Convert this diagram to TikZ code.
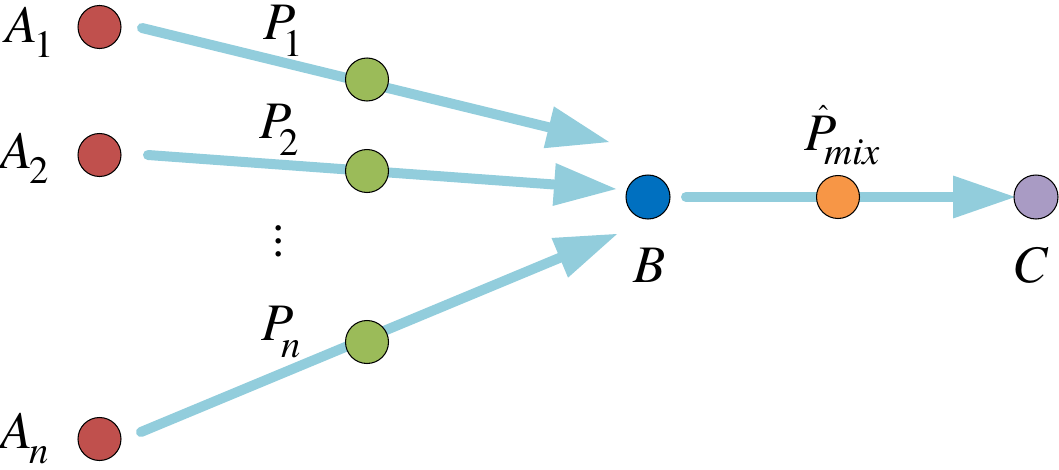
\documentclass[tikz,border=0pt]{standalone}
\usepackage{fontspec}
\setmainfont{texgyretermes}[Extension=.otf,UprightFont=*-regular,ItalicFont=*-italic,BoldFont=*-bold,BoldItalicFont=*-bolditalic]
\usetikzlibrary{arrows.meta}
\definecolor{lineblue}{HTML}{92CDDC}
\definecolor{nred}{HTML}{C0504D}
\definecolor{ngreen}{HTML}{9BBB59}
\definecolor{nblue}{HTML}{0070C0}
\definecolor{norange}{HTML}{F79646}
\definecolor{npurple}{HTML}{A99BC4}
\newcommand\mainsz{\fontsize{30}{32}\selectfont}
\newcommand\subsz{\fontsize{22}{24}\selectfont}
\newcommand\SubA[2]{\textit{#1}\kern-2pt\raisebox{-9pt}{\subsz #2}}
\newcommand\SubP[2]{\textit{#1}\kern-7pt\raisebox{-10pt}{\subsz #2}}
\newcommand\HatP{\makebox[0pt][l]{\kern 8pt\raisebox{14pt}{\fontsize{17}{17}\selectfont\char"02C6}}\textit{P}}
\begin{document}
\begin{tikzpicture}[x=0.02cm,y=-0.02cm,
  dot/.style={circle,draw=black,line width=0.6pt,minimum size=0.86cm,inner sep=0pt},
  bigdot/.style={dot,minimum size=0.88cm},
  conn/.style={draw=lineblue,line width=0.2cm,line cap=round,
    -{Triangle[length=12.4mm,width=8.6mm,line width=0pt]}},
  lab/.style={inner sep=0pt,anchor=base west,font=\mainsz}]
\useasboundingbox (0,0) rectangle (1059,470);
% connector end points
\coordinate (s1) at (142,28);
\coordinate (t1) at (609,142);
\coordinate (s2) at (148,155);
\coordinate (t2) at (616,189);
\coordinate (s3) at (141,432);
\coordinate (t3) at (617,234);
\coordinate (s4) at (686,197);
\coordinate (t4) at (1015,197);
% connectors
\draw[conn] (s1) -- (t1);
\draw[conn] (s2) -- (t2);
\draw[conn] (s3) -- (t3);
\draw[conn] (s4) -- (t4);
% nodes
\node[dot,fill=nred] (A1) at (99.5,27) {};
\node[dot,fill=nred] (A2) at (99.5,155) {};
\node[dot,fill=nred] (An) at (99.5,439) {};
\node[dot,fill=ngreen] (G1) at (367,79.5) {};
\node[dot,fill=ngreen] (G2) at (367,171) {};
\node[dot,fill=ngreen] (Gn) at (367,342) {};
\node[bigdot,fill=nblue] (B) at (648,197) {};
\node[dot,fill=norange] (M) at (838,197) {};
\node[bigdot,fill=npurple] (C) at (1036,197) {};
% labels
\node[lab] (lA1) at (5,42) {\SubA{A}{1}};
\node[lab] (lA2) at (0,168) {\SubA{A}{2}};
\node[lab] (lAn) at (0,448) {\SubA{A}{\textit{n}}};
\node[lab] (lP1) at (263,39) {\SubP{P}{1}};
\node[lab] (lP2) at (259,138) {\SubP{P}{2}};
\node[lab] (lPn) at (261,340) {\SubP{P}{\textit{n}}};
\node[lab] (lPm) at (804,150) {\HatP\kern-7pt\raisebox{-8.5pt}{\subsz\textit{mix}}};
\node[inner sep=0pt,anchor=base,font=\mainsz] (lB) at (650,282) {\textit{B}};
\node[inner sep=0pt,anchor=base,font=\mainsz] (lC) at (1031,282) {\textit{C}};
\node[inner sep=0pt,align=center,font=\fontsize{28}{7.4pt}\selectfont] (vd) at (279,241) {.\\.\\.};
\end{tikzpicture}
\end{document}
